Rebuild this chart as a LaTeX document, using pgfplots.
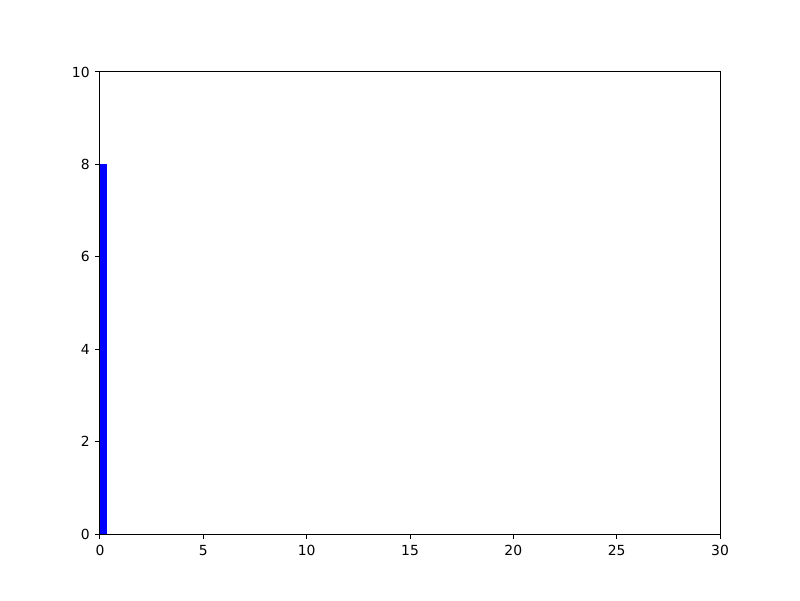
\documentclass[border=0pt]{standalone}
\usepackage{pgfplots}
\pgfplotsset{compat=1.18}
\usepackage{fontspec}
\setmainfont{DejaVu Sans}
\pgfkeys{/pgf/number format/assume math mode=true}
\begin{document}
\begin{tikzpicture}[x=1pt,y=1pt,font=\fontsize{13.9pt}{16pt}\selectfont]
\path[use as bounding box] (-100,-66) rectangle (700,534);
\begin{axis}[
  at={(0,0)}, anchor=south west,
  scale only axis, width=620pt, height=462pt,
  xmin=0, xmax=30, ymin=0, ymax=10,
  xtick={0,5,10,15,20,25,30},
  xticklabels={0,5,10,15,20,25,30},
  ytick={0,2,4,6,8,10},
  yticklabels={0,2,4,6,8,10},
  tick align=outside, major tick length=4.86pt,
  tick style={line width=1pt, black},
  axis line style={line width=1pt},
  xtick pos=bottom, ytick pos=left,
  tick label style={font=\fontsize{13.9pt}{16pt}\selectfont},
  xticklabel style={yshift=-3pt},
  yticklabel style={xshift=-2pt},
]
\addplot[ybar interval, fill=blue, draw=none] coordinates {(0,8) (0.33,8)};
\end{axis}
\end{tikzpicture}
\end{document}
